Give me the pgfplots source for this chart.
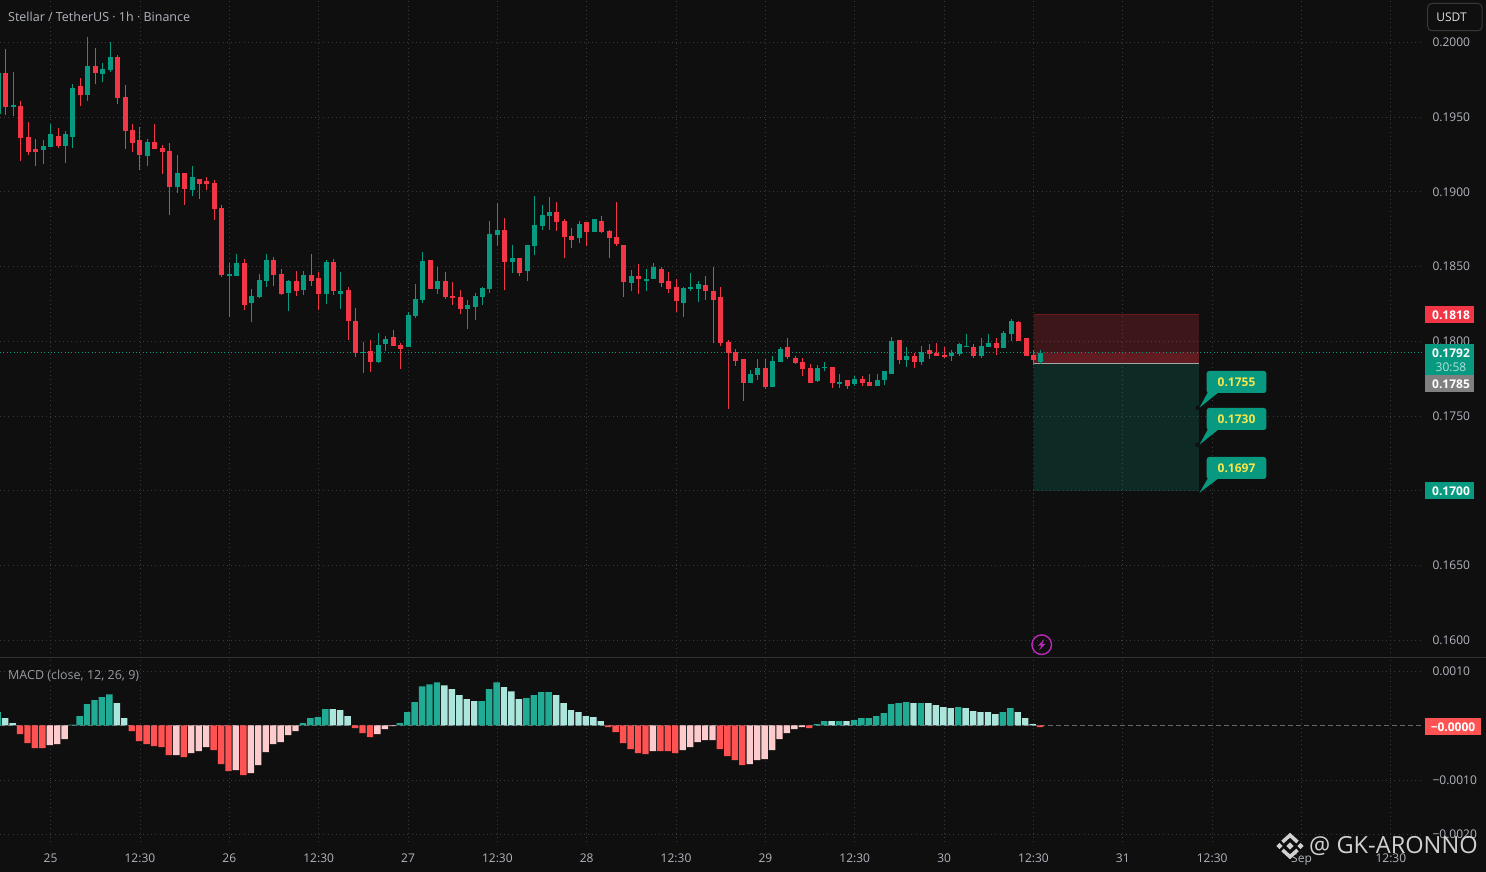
\documentclass[border=0pt]{standalone}
\usepackage{pgfplots}
\usepackage{pgfplotstable}
\usepackage{fontspec}
\pgfplotsset{compat=1.18}
\setmainfont{Open Sans}
\definecolor{bg}{HTML}{0F0F0F}
\definecolor{gridc}{HTML}{3A3A3A}
\definecolor{txt}{HTML}{B2B5BE}
\definecolor{up}{HTML}{089981}
\definecolor{dn}{HTML}{F23645}
\definecolor{hd}{HTML}{22AB94}
\definecolor{hl}{HTML}{ACE5DC}
\definecolor{hr}{HTML}{FF5252}
\definecolor{hp}{HTML}{FCCBCD}
\definecolor{yel}{HTML}{F7E64A}

% ---- candles: i open high low close
\pgfplotstableread{
i o h l c
-7 .19522 .19850 .19450 .19796
-5 .19569 .19802 .19509 .19578
-1 .19282 .19349 .19189 .19309
0 .19302 .19456 .19302 .19389
2 .19309 .19409 .19196 .19389
3 .19369 .19722 .19296 .19696
5 .19649 .20036 .19609 .19842
7 .19789 .19862 .19736 .19822
8 .19816 .20002 .19802 .19902
13 .19242 .19356 .19176 .19336
17 .19029 .19249 .18989 .19129
19 .19009 .19176 .18969 .19096
24 .18436 .18522 .18162 .18449
25 .18436 .18582 .18436 .18522
27 .18256 .18349 .18129 .18302
28 .18296 .18449 .18289 .18409
29 .18402 .18582 .18362 .18542
32 .18322 .18409 .18202 .18402
34 .18342 .18469 .18309 .18442
37 .18316 .18542 .18249 .18529
39 .18316 .18462 .18216 .18336
42 .17922 .17996 .17789 .17929
44 .17862 .18056 .17856 .17976
45 .17982 .18036 .17936 .18016
48 .17962 .18196 .17962 .18176
49 .18169 .18382 .18156 .18282
50 .18276 .18596 .18256 .18536
52 .18349 .18496 .18316 .18402
56 .18216 .18276 .18082 .18242
57 .18229 .18322 .18142 .18302
58 .18296 .18362 .18242 .18356
59 .18349 .18802 .18322 .18716
60 .18709 .18922 .18636 .18742
62 .18529 .18642 .18456 .18556
64 .18469 .18642 .18402 .18642
65 .18636 .18969 .18576 .18776
66 .18769 .18909 .18742 .18842
67 .18836 .18962 .18742 .18862
71 .18689 .18802 .18656 .18782
73 .18729 .18816 .18729 .18816
78 .18389 .18476 .18336 .18436
80 .18409 .18482 .18336 .18416
81 .18416 .18522 .18416 .18496
85 .18256 .18362 .18162 .18356
86 .18349 .18456 .18336 .18362
87 .18349 .18402 .18262 .18382
94 .17722 .17809 .17722 .17782
95 .17776 .17882 .17742 .17822
97 .17696 .17902 .17696 .17869
98 .17862 .17962 .17862 .17949
103 .17736 .17842 .17729 .17822
104 .17822 .17862 .17802 .17829
106 .17716 .17782 .17689 .17729
108 .17716 .17769 .17702 .17749
111 .17702 .17782 .17702 .17742
112 .17742 .17802 .17709 .17802
113 .17782 .18029 .17782 .18002
115 .17876 .17962 .17829 .17902
117 .17862 .17969 .17842 .17929
121 .17902 .17942 .17869 .17922
122 .17916 .17989 .17902 .17982
123 .17962 .18049 .17962 .17969
125 .17902 .18022 .17889 .17969
126 .17962 .18049 .17962 .17989
128 .17956 .18069 .17956 .18056
129 .18049 .18149 .18002 .18136
133 .17862 .17942 .17849 .17922
}\upcandles
\pgfplotstableread{
i o h l c
-6 .19796 .19956 .19516 .19569
-4 .19576 .19609 .19209 .19362
-3 .19369 .19469 .19249 .19269
-2 .19289 .19356 .19176 .19269
1 .19376 .19429 .19296 .19309
4 .19709 .19762 .19576 .19649
6 .19842 .19962 .19722 .19796
9 .19902 .19916 .19589 .19629
10 .19636 .19716 .19289 .19409
11 .19416 .19456 .19269 .19329
12 .19349 .19436 .19149 .19249
14 .19336 .19456 .19289 .19289
15 .19296 .19316 .19116 .19269
16 .19276 .19329 .18842 .19029
18 .19129 .19129 .18909 .19022
20 .19089 .19089 .18949 .19049
21 .19069 .19096 .19009 .19049
22 .19056 .19076 .18809 .18882
23 .18889 .18909 .18429 .18442
26 .18522 .18549 .18209 .18242
30 .18542 .18562 .18369 .18442
31 .18449 .18482 .18309 .18316
33 .18402 .18469 .18302 .18336
35 .18442 .18582 .18369 .18402
36 .18422 .18462 .18209 .18316
38 .18529 .18549 .18309 .18336
40 .18342 .18362 .18009 .18136
41 .18136 .18222 .17896 .17922
43 .17936 .18009 .17796 .17862
46 .18029 .18076 .17969 .17969
47 .17976 .17989 .17816 .17949
51 .18542 .18542 .18349 .18349
53 .18402 .18462 .18282 .18296
54 .18302 .18396 .18242 .18289
55 .18296 .18342 .18182 .18216
61 .18742 .18822 .18342 .18529
63 .18556 .18556 .18436 .18456
68 .18862 .18929 .18736 .18796
69 .18802 .18816 .18556 .18696
70 .18702 .18756 .18622 .18676
72 .18796 .18796 .18636 .18729
74 .18802 .18836 .18722 .18729
75 .18736 .18742 .18556 .18689
76 .18696 .18929 .18636 .18649
77 .18642 .18642 .18296 .18396
79 .18436 .18516 .18316 .18416
82 .18482 .18496 .18362 .18389
83 .18402 .18462 .18322 .18349
84 .18362 .18416 .18196 .18269
88 .18376 .18436 .18276 .18336
89 .18336 .18496 .17989 .18276
90 .18296 .18362 .17969 .17989
91 .17996 .18009 .17549 .17922
92 .17929 .17949 .17836 .17869
93 .17882 .17882 .17602 .17722
96 .17822 .17882 .17682 .17696
99 .17962 .18022 .17882 .17896
100 .17889 .17902 .17849 .17856
101 .17862 .17889 .17769 .17816
102 .17822 .17849 .17722 .17722
105 .17829 .17829 .17689 .17722
107 .17742 .17742 .17682 .17702
109 .17749 .17769 .17702 .17722
110 .17729 .17782 .17702 .17702
114 .18009 .18009 .17849 .17876
116 .17902 .17922 .17822 .17862
118 .17942 .17982 .17882 .17916
119 .17922 .17989 .17902 .17902
120 .17909 .17962 .17889 .17896
124 .17962 .17982 .17889 .17902
127 .17989 .18022 .17909 .17956
130 .18129 .18136 .18002 .18002
131 .18022 .18022 .17902 .17902
132 .17909 .17942 .17842 .17876
}\downcandles

% ---- MACD histogram
\pgfplotstableread{
i v
-7 .000244
3 .000018
4 .000171
5 .000390
6 .000464
7 .000519
8 .000573
34 .000043
35 .000134
36 .000153
37 .000299
47 .000043
48 .000244
49 .000427
50 .000720
51 .000756
52 .000793
58 .000445
59 .000665
60 .000793
64 .000500
65 .000555
66 .000610
67 .000610
103 .000024
104 .000079
106 .000079
108 .000098
109 .000134
110 .000134
111 .000171
112 .000226
113 .000390
114 .000409
115 .000427
117 .000409
122 .000336
128 .000244
129 .000317
}\histD
\pgfplotstableread{
i v
-6 .000134
-5 .000043
9 .000409
10 .000134
38 .000299
39 .000281
40 .000171
53 .000738
54 .000665
55 .000555
56 .000482
57 .000445
61 .000702
62 .000628
63 .000482
68 .000555
69 .000409
70 .000281
71 .000244
72 .000171
73 .000153
74 .000079
105 .000079
107 .000079
116 .000409
118 .000409
119 .000372
120 .000336
121 .000317
123 .000317
124 .000262
125 .000244
126 .000244
127 .000207
130 .000244
131 .000134
132 .000024
}\histL
\pgfplotstableread{
i v
-4 -.000159
-3 -.000323
-2 -.000415
-1 -.000415
11 -.000104
12 -.000287
13 -.000342
14 -.000378
15 -.000397
16 -.000543
18 -.000580
22 -.000451
23 -.000708
24 -.000836
26 -.000909
41 -.000049
42 -.000140
43 -.000214
75 -.000031
76 -.000122
77 -.000323
78 -.000433
79 -.000506
80 -.000525
82 -.000470
83 -.000470
84 -.000506
90 -.000433
91 -.000561
92 -.000634
93 -.000726
102 -.000049
133 -.000031
}\histR
\pgfplotstableread{
i v
0 -.000360
1 -.000342
2 -.000250
17 -.000543
19 -.000506
20 -.000470
21 -.000397
25 -.000817
27 -.000872
28 -.000726
29 -.000488
30 -.000342
31 -.000305
32 -.000177
33 -.000104
44 -.000159
45 -.000067
46 -.000012
81 -.000470
85 -.000451
86 -.000397
87 -.000305
88 -.000268
89 -.000268
94 -.000708
95 -.000634
96 -.000616
97 -.000451
98 -.000250
99 -.000140
100 -.000067
101 -.000031
}\histP

\pgfplotsset{
  pane/.style={
    scale only axis, width=1422pt,
    xmin=-6.796, xmax=184.18,
    axis line style={draw=none}, tick style={draw=none},
    xtick={0,12,...,180},
    grid=major,
    major grid style={color=gridc, line width=0.8pt, dash pattern=on 1pt off 3.2pt},
    yticklabel pos=right,
    scaled y ticks=false,
    tick label style={font=\fontsize{12}{14}\selectfont, text=txt},
    yticklabel style={anchor=west, xshift=7pt},
    clip=true,
  },
  wick/.style={forget plot, draw=none, mark=none, error bars/.cd, y dir=both, y explicit, error mark=none,
     error bar style={draw=#1, line width=1pt}},
  body/.style={forget plot, draw=none, mark=none, error bars/.cd, y dir=both, y explicit, error mark=none,
     error bar style={draw=#1, line width=5pt}},
  hist/.style={ybar, bar width=6.4pt, bar shift=-0.8pt, draw=none, fill=#1, forget plot},
}

\begin{document}
\begin{tikzpicture}[x=1pt,y=1pt]
\fill[bg] (0,0) rectangle (1486,872);
\path[use as bounding box] (0,0) rectangle (1486,872);

% ---- price pane
\begin{axis}[pane, at={(0pt,214.3pt)}, anchor=south west, height=657.7pt,
    ymin=0.15884, ymax=0.20283,
    ytick={0.16,0.165,0.17,0.175,0.18,0.185,0.19,0.195,0.2},
    yticklabels={0.1600,0.1650,0.1700,0.1750,0.1800,0.1850,0.1900,0.1950,0.2000},
    xticklabels={}]
 % short position tool
 \addplot[draw=none, fill=dn, fill opacity=0.2, forget plot] coordinates {(132.05,0.1818)(154.2,0.1818)(154.2,0.1785)(132.05,0.1785)} \closedcycle;
 \addplot[draw=none, fill=dn, fill opacity=0.2, forget plot] coordinates {(132.05,0.17926)(154.2,0.17926)(154.2,0.1785)(132.05,0.1785)} \closedcycle;
 \addplot[draw=none, fill=up, fill opacity=0.2, forget plot] coordinates {(132.05,0.1785)(154.2,0.1785)(154.2,0.1700)(132.05,0.1700)} \closedcycle;
 \addplot[draw=dn!45!black, line width=0.8pt, forget plot] coordinates {(132.05,0.1818)(154.2,0.1818)};
 \addplot[draw=white!65!black, line width=1pt, forget plot] coordinates {(132.05,0.1785)(154.2,0.1785)};
 % last price line
 \addplot[draw=up, line width=1pt, dash pattern=on 1pt off 2.4pt, forget plot] coordinates {(-6.796,0.17926)(184.18,0.17926)};
 % candles
 \addplot[wick=up] table[x=i, y expr={(\thisrow{h}+\thisrow{l})/2}, y error expr={(\thisrow{h}-\thisrow{l})/2}] {\upcandles};
 \addplot[wick=dn] table[x=i, y expr={(\thisrow{h}+\thisrow{l})/2}, y error expr={(\thisrow{h}-\thisrow{l})/2}] {\downcandles};
 \addplot[body=up] table[x=i, y expr={(\thisrow{o}+\thisrow{c})/2}, y error expr={abs(\thisrow{c}-\thisrow{o})/2}] {\upcandles};
 \addplot[body=dn] table[x=i, y expr={(\thisrow{o}+\thisrow{c})/2}, y error expr={abs(\thisrow{c}-\thisrow{o})/2}] {\downcandles};
\end{axis}

% ---- MACD pane
\begin{axis}[pane, at={(0pt,30pt)}, anchor=south west, height=184.3pt,
    ymin=-0.002138, ymax=0.001244,
    ytick={-0.002,-0.001,0.001},
    yticklabels={−0.0020,−0.0010,0.0010},
    xticklabels={25,12:30,26,12:30,27,12:30,28,12:30,29,12:30,30,12:30,31,12:30,Sep,12:30},
    xticklabel style={yshift=-8pt}]
 \addplot[draw=white!40!black, line width=0.8pt, dash pattern=on 5pt off 3pt, forget plot] coordinates {(-6.796,0)(184.18,0)};
 \addplot[hist=hd] table[x=i,y=v] {\histD};
 \addplot[hist=hl] table[x=i,y=v] {\histL};
 \addplot[hist=hr] table[x=i,y=v] {\histR};
 \addplot[hist=hp] table[x=i,y=v] {\histP};
\end{axis}

% ---- page furniture in reference pixel coordinates (y downwards)
\begin{scope}[shift={(0,872)}, y=-1pt, x=1pt]
 \draw[color=white!20!black, line width=1pt] (0,657.7) -- (1486,657.7);
 \node[anchor=west, inner sep=0, text=txt, font=\fontsize{12.5}{15}\selectfont] at (8,17) {Stellar / TetherUS · 1h · Binance};
 \node[anchor=west, inner sep=0, text=txt!85!black, font=\fontsize{12.5}{15}\selectfont] at (8,675.3) {MACD (close, 12, 26, 9)};
 % currency button
 \draw[color=white!22!black, line width=1pt, rounded corners=4pt] (1427.7,3.5) rectangle (1482,30.7);
 \node[text=white!88!black, inner sep=0, font=\fontsize{12}{14}\selectfont] at (1451.5,17.6) {USDT};
 % scale tags
 \newcommand{\tag}[5]{\fill[#1] (#2,#3) rectangle (#4,#5);}
 \tag{dn}{1425}{306}{1474}{322.7}
 \node[text=white, inner sep=0, font=\fontsize{12}{14}\selectfont\bfseries] at (1451,315) {0.1818};
 \tag{up}{1425}{344}{1474}{375}
 \node[text=white, inner sep=0, font=\fontsize{12}{14}\selectfont\bfseries] at (1451,353) {0.1792};
 \node[text=white!70!up, inner sep=0, font=\fontsize{12}{14}\selectfont] at (1451,367) {30:58};
 \tag{white!50!black}{1425}{375}{1474}{392}
 \node[text=white, inner sep=0, font=\fontsize{12}{14}\selectfont\bfseries] at (1451,384) {0.1785};
 \tag{up}{1425}{482}{1474}{499}
 \node[text=white, inner sep=0, font=\fontsize{12}{14}\selectfont\bfseries] at (1451,491) {0.1700};
 \tag{hr}{1425}{718.3}{1481}{735}
 \node[text=white, inner sep=0, font=\fontsize{12}{14}\selectfont\bfseries] at (1453,727) {−0.0000};
 % target call-outs
 \newcommand{\callout}[3]{%
   \fill[up] (1208,#1+21) -- (1199.5,#2) -- (1219,#1+21) -- cycle;
   \fill[up, rounded corners=2.5pt] (1206.7,#1) rectangle (1266.3,#1+22);
   \node[text=yel, inner sep=0, font=\fontsize{12}{14}\selectfont\bfseries] at (1236.5,#1+11) {#3};}
 \fill[bg] (1197.5,407.7) circle (2.2);
 \fill[bg] (1197.5,444.7) circle (2.2);
 \callout{371}{407.7}{0.1755}
 \callout{408}{444.7}{0.1730}
 \callout{457}{492.7}{0.1697}
 % lightning marker
 \draw[color=violet!60!magenta!85!white, line width=1.4pt] (1041.7,644.7) circle (9.8);
 \fill[color=violet!60!magenta!85!white] (1044.5,639) -- (1038,645.6) -- (1041.3,645.6) -- (1039,650.5) -- (1045.5,643.8) -- (1042.2,643.8) -- cycle;
 % watermark
 \begin{scope}[color=white!82!black]
  \draw[line width=3.6pt, miter limit=4] (1282.5,842) -- (1290,835.2) -- (1297.5,842);
  \draw[line width=3.6pt, miter limit=4] (1282.5,850) -- (1290,856.8) -- (1297.5,850);
  \fill (1279.5,842.8) -- (1282.7,846) -- (1279.5,849.2) -- (1276.3,846) -- cycle;
  \fill (1300.5,842.8) -- (1303.7,846) -- (1300.5,849.2) -- (1297.3,846) -- cycle;
  \fill (1290,842.4) -- (1293.6,846) -- (1290,849.6) -- (1286.4,846) -- cycle;
 \end{scope}
 \node[anchor=west, inner sep=0, text=white!82!black, font=\fontsize{23.6}{28}\selectfont] at (1309,846) {@ GK-ARONNO};
\end{scope}
\end{tikzpicture}
\end{document}
